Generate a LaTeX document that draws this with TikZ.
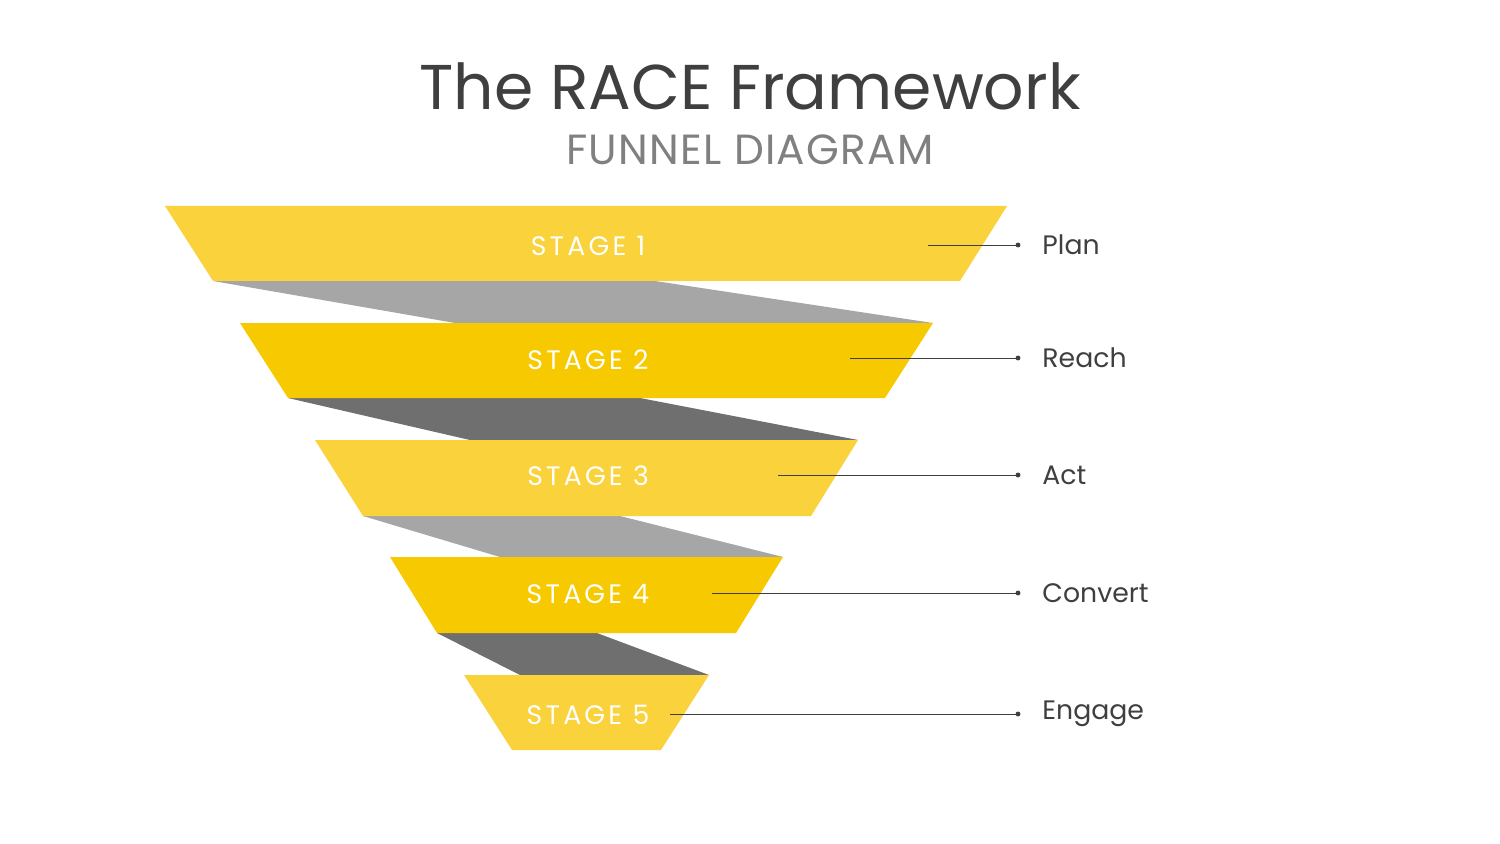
\documentclass[tikz,border=0pt]{standalone}
\usepackage{fontspec}
\setmainfont{Poppins}
\definecolor{yA}{HTML}{F9D23C}
\definecolor{yB}{HTML}{F7C900}
\definecolor{gL}{HTML}{A6A6A6}
\definecolor{gD}{HTML}{6F6F6F}
\definecolor{txt}{HTML}{3F3F3F}
\tikzset{stagetxt/.style={text=white,font=\fontsize{38}{40}\selectfont\addfontfeature{LetterSpace=12}},
lbl/.style={text=txt,anchor=west,font=\fontsize{38}{40}\selectfont},
lead/.style={draw=txt,line width=1.2pt},
dotc/.style={circle,fill=txt,inner sep=0pt,minimum size=7pt}}
\begin{document}
\begin{tikzpicture}[x=0.05cm,y=-0.05cm]
\useasboundingbox (0,0) rectangle (1500,844);
\node[text=txt,font=\fontsize{90}{96}\selectfont] (title) at (750,86) {The RACE Framework};
\node[text=gray,font=\fontsize{60}{64}\selectfont\addfontfeature{LetterSpace=3}] (sub) at (750,150) {FUNNEL DIAGRAM};
% bands
\fill[gL] (213,281) -- (655,281) -- (933,323) -- (455,323) -- cycle;
\fill[gD] (288,398) -- (640,398) -- (858,440) -- (470,440) -- cycle;
\fill[gL] (363,516) -- (620,516) -- (783,557) -- (500,557) -- cycle;
\fill[gD] (437,633) -- (597,633) -- (709,675) -- (520,675) -- cycle;
% stages
\fill[yA] (165,206) -- (1007,206) -- (960,281) -- (213,281) -- cycle;
\fill[yB] (240,323) -- (933,323) -- (885,398) -- (288,398) -- cycle;
\fill[yA] (315,440) -- (858,440) -- (811,516) -- (363,516) -- cycle;
\fill[yB] (390,557) -- (783,557) -- (736,633) -- (437,633) -- cycle;
\fill[yA] (464,675) -- (709,675) -- (661,750) -- (512,750) -- cycle;
\node[stagetxt] (s1) at (588,246) {STAGE 1};
\node[stagetxt] (s2) at (588,360) {STAGE 2};
\node[stagetxt] (s3) at (588,476) {STAGE 3};
\node[stagetxt] (s4) at (588,594) {STAGE 4};
\node[stagetxt] (s5) at (588,715) {STAGE 5};
\foreach \n/\x/\y/\t in {1/928/245/Plan,2/850/358/Reach,3/778/475/Act,4/712/593/Convert,5/670/714/Engage}{
  \coordinate (a\n) at (\x,\y);
  \node[dotc] (d\n) at (1018,\y) {};
  \draw[lead] (a\n) -- (d\n.center);
  \node[lbl] (l\n) at (1040,\y) {\t};
}
\end{tikzpicture}
\end{document}
